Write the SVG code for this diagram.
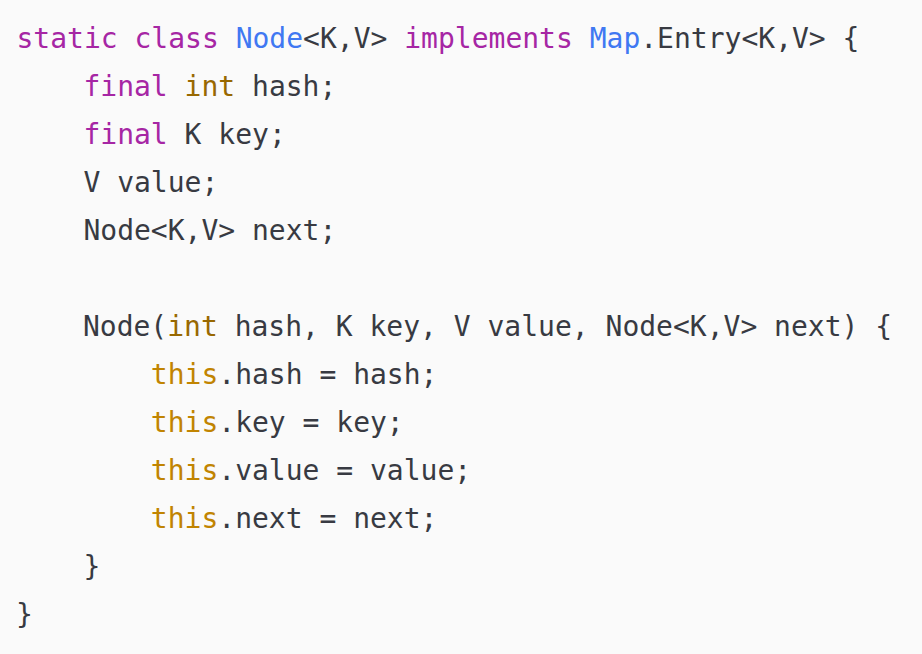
<svg xmlns="http://www.w3.org/2000/svg" width="922" height="654" viewBox="0 0 922 654">
<style>
text{font-family:"DejaVu Sans Mono","Liberation Mono",monospace;font-size:28px;fill:#383a42;white-space:pre}
.k{fill:#a626a4}.t{fill:#4078f2}.y{fill:#986801}.b{fill:#c18401}
</style>
<rect width="922" height="654" fill="#fafafa"/>
<g id="code" xml:space="preserve">
<text x="16.5" y="48"><tspan class="k">static class</tspan> <tspan class="t">Node</tspan>&lt;K,V&gt; <tspan class="k">implements</tspan> <tspan class="t">Map</tspan>.Entry&lt;K,V&gt; {</text>
<text x="16" y="96">    <tspan class="k">final</tspan> <tspan class="y">int</tspan> hash;</text>
<text x="16" y="144">    <tspan class="k">final</tspan> K key;</text>
<text x="16" y="192">    V value;</text>
<text x="16" y="240">    Node&lt;K,V&gt; next;</text>
<text x="15.5" y="336">    Node(<tspan class="y">int</tspan> hash, K key, V value, Node&lt;K,V&gt; next) {</text>
<text x="16" y="384">        <tspan class="b">this</tspan>.hash = hash;</text>
<text x="16" y="432">        <tspan class="b">this</tspan>.key = key;</text>
<text x="16" y="480">        <tspan class="b">this</tspan>.value = value;</text>
<text x="16" y="528">        <tspan class="b">this</tspan>.next = next;</text>
<text x="16" y="576">    }</text>
<text x="16" y="624">}</text>
</g>
</svg>
